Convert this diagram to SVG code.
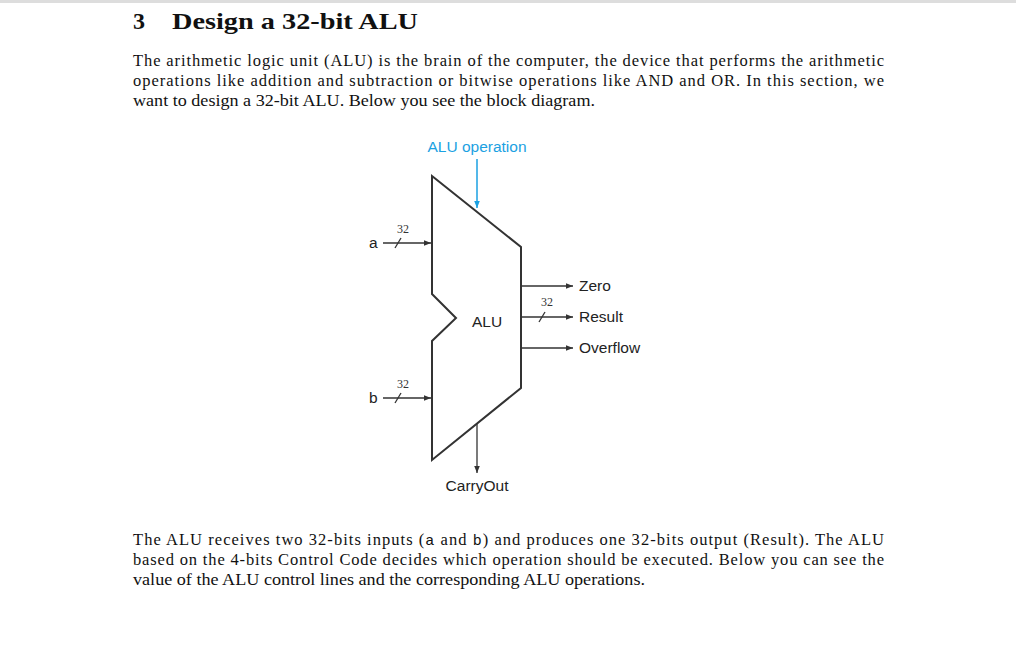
<svg xmlns="http://www.w3.org/2000/svg" width="1016" height="668" viewBox="0 0 1016 668">
<style>
.t{font-family:"Liberation Serif","DejaVu Serif",serif;font-size:16.5px;fill:#111}
.s{font-family:"Liberation Sans",Arial,sans-serif;font-size:15.5px;fill:#222}
.n{font-family:"Liberation Serif",serif;font-size:12px;fill:#333}
.m{font-family:"Liberation Mono",monospace;font-size:15px}
.w{stroke:#333;stroke-width:1.3;fill:none}
</style>
<defs>
<marker id="ah" viewBox="0 0 10 10" refX="10" refY="5" markerWidth="7" markerHeight="7" orient="auto" markerUnits="userSpaceOnUse"><path d="M0,1L10,5L0,9z" fill="#333"/></marker>
<marker id="ab" viewBox="0 0 10 10" refX="10" refY="5" markerWidth="7" markerHeight="7" orient="auto" markerUnits="userSpaceOnUse"><path d="M0,1L10,5L0,9z" fill="#1ba1e2"/></marker>
</defs>
<rect width="1016" height="668" fill="#fff"/>
<rect x="0" y="0" width="1016" height="3" fill="#ddd"/>
<text x="133" y="29" style="font-family:'Liberation Serif',serif;font-size:24px;font-weight:bold;fill:#111">3</text>
<text x="172" y="29" textLength="246" lengthAdjust="spacingAndGlyphs" style="font-family:'Liberation Serif',serif;font-size:24px;font-weight:bold;fill:#111">Design a 32-bit ALU</text>
<text class="t" x="133" y="66" textLength="751" lengthAdjust="spacing">The arithmetic logic unit (ALU) is the brain of the computer, the device that performs the arithmetic</text>
<text class="t" x="133" y="86" textLength="751" lengthAdjust="spacing">operations like addition and subtraction or bitwise operations like AND and OR. In this section, we</text>
<text class="t" x="133" y="106" textLength="462" lengthAdjust="spacingAndGlyphs">want to design a 32-bit ALU. Below you see the block diagram.</text>
<g id="alu">
<path d="M432,176L521,247L521,388L432,460L432,341L456,318L432,294Z" fill="#fff" stroke="#333" stroke-width="2"/>
<text class="s" x="487" y="327" text-anchor="middle">ALU</text>
</g>
<g id="labels">
<text x="477" y="152" text-anchor="middle" style="font-family:'Liberation Sans',Arial,sans-serif;font-size:15.5px;fill:#1ba1e2">ALU operation</text>
<text class="s" x="369" y="248">a</text>
<text class="s" x="369" y="403">b</text>
<text class="n" x="403" y="233" text-anchor="middle">32</text>
<text class="n" x="403" y="388" text-anchor="middle">32</text>
<text class="n" x="547" y="306" text-anchor="middle">32</text>
<text class="s" x="579" y="291">Zero</text>
<text class="s" x="579" y="322">Result</text>
<text class="s" x="579" y="353">Overflow</text>
<text class="s" x="477" y="491" text-anchor="middle">CarryOut</text>
</g>
<g id="connectors">
<line x1="477" y1="159" x2="477" y2="208" stroke="#1ba1e2" stroke-width="1.5" marker-end="url(#ab)"/>
<line class="w" x1="383" y1="243" x2="431" y2="243" marker-end="url(#ah)"/>
<line class="w" x1="395" y1="248" x2="401" y2="238"/>
<line class="w" x1="383" y1="398" x2="431" y2="398" marker-end="url(#ah)"/>
<line class="w" x1="395" y1="403" x2="401" y2="393"/>
<line class="w" x1="521" y1="286" x2="573" y2="286" marker-end="url(#ah)"/>
<line class="w" x1="521" y1="317" x2="573" y2="317" marker-end="url(#ah)"/>
<line class="w" x1="539" y1="322" x2="545" y2="312"/>
<line class="w" x1="521" y1="348" x2="573" y2="348" marker-end="url(#ah)"/>
<line class="w" x1="477" y1="423" x2="477" y2="473" marker-end="url(#ah)"/>
</g>
<text class="t" x="133" y="545" textLength="751" lengthAdjust="spacing">The ALU receives two 32-bits inputs (<tspan class="m">a</tspan> and <tspan class="m">b</tspan>) and produces one 32-bits output (Result). The ALU</text>
<text class="t" x="133" y="565" textLength="751" lengthAdjust="spacing">based on the 4-bits Control Code decides which operation should be executed. Below you can see the</text>
<text class="t" x="133" y="585" textLength="512" lengthAdjust="spacingAndGlyphs">value of the ALU control lines and the corresponding ALU operations.</text>
</svg>
